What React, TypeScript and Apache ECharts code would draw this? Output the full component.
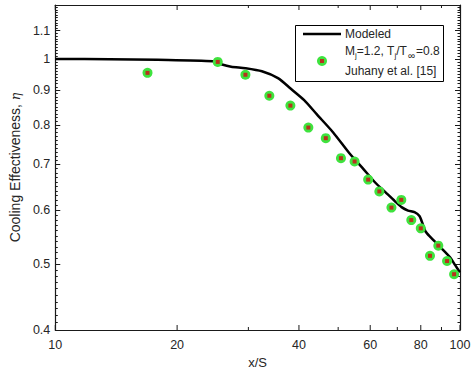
import React, { useEffect, useRef } from 'react';
import * as echarts from 'echarts';

// Modeled curve (x/S, eta)
const modeledX = [10, 13.6, 17.9, 24.5, 25.7, 27.2, 29.5, 32.4, 35.5, 38.2, 41.2, 44.3, 48.6, 53.3, 57.4, 61.8, 65.3, 69.1, 71.7, 74.4, 77.2, 79.4, 80.9, 82.2, 84.7, 89.5, 94.6, 97.3, 100];
const modeledY = [1.0, 0.999, 0.997, 0.992, 0.982, 0.974, 0.969, 0.959, 0.937, 0.904, 0.870, 0.829, 0.780, 0.727, 0.692, 0.658, 0.638, 0.618, 0.606, 0.599, 0.596, 0.588, 0.572, 0.558, 0.547, 0.529, 0.511, 0.498, 0.486];

// Juhany et al. [15] experimental points
const expX = [16.9, 25.2, 29.5, 33.8, 38.1, 42.2, 46.6, 50.8, 54.9, 59.3, 63.2, 67.7, 71.6, 75.8, 80.0, 84.3, 88.4, 92.9, 96.7];
const expY = [0.954, 0.990, 0.948, 0.883, 0.854, 0.793, 0.765, 0.715, 0.707, 0.665, 0.639, 0.605, 0.621, 0.580, 0.564, 0.514, 0.532, 0.505, 0.483];

// Ticks
const xMajorTicks = [10, 20, 40, 60, 80, 100];
const xMinorTicks = [30, 50, 70, 90];
const yMajorTicks = [0.4, 0.5, 0.6, 0.7, 0.8, 0.9, 1, 1.1];
const yMinorTicks: number[] = [];
for (let i = 41; i < 120; i++) {
  if (i % 10 !== 0) yMinorTicks.push(i / 100);
}
const Y_MIN = 0.4;
const Y_MAX = 1.2;

const FONT = 'Liberation Sans';
const TXT = '#262626';
const AX = '#1a1a1a';

export default function App() {
  const ref = useRef<HTMLDivElement>(null);
  useEffect(() => {
    if (!ref.current) return;
    const chart = echarts.init(ref.current, undefined, { renderer: 'svg' });

    const xBase = (pos: 'top' | 'bottom', labels: boolean) => ({
      type: 'log',
      logBase: 10,
      min: 10,
      max: 100,
      position: pos,
      axisLine: { show: true, onZero: false, lineStyle: { color: AX, width: 1.2 } },
      axisTick: { show: false },
      axisLabel: labels
        ? { show: true, customValues: xMajorTicks, formatter: (v: number) => String(Math.round(v)), fontFamily: FONT, fontSize: 12.5, color: TXT, margin: 8 }
        : { show: false },
      splitLine: { show: false },
      minorTick: { show: false },
      minorSplitLine: { show: false },
    });
    const yBase = (pos: 'left' | 'right', ticks: number[], len: number, labels: boolean, line: boolean) => ({
      type: 'log',
      logBase: 10,
      min: Y_MIN,
      max: Y_MAX,
      position: pos,
      axisLine: { show: line, onZero: false, lineStyle: { color: AX, width: 1.2 } },
      axisTick: { show: true, inside: true, length: len, customValues: ticks, lineStyle: { color: AX, width: 1 } },
      axisLabel: labels
        ? { show: true, customValues: ticks, formatter: (v: number) => String(Math.round(v * 10) / 10), fontFamily: FONT, fontSize: 12.5, color: TXT, margin: 5 }
        : { show: false },
      splitLine: { show: false },
      minorTick: { show: false },
      minorSplitLine: { show: false },
    });

    const xAxis: any[] = [
      { ...xBase('bottom', true), name: 'x/S', nameLocation: 'middle', nameGap: 26, nameTextStyle: { fontFamily: FONT, fontSize: 13, color: TXT } },
      xBase('top', false),
    ];
    const yAxis: any[] = [
      {
        ...yBase('left', yMajorTicks, 5, true, true),
        name: 'Cooling Effectiveness, {e|η}',
        nameLocation: 'middle',
        nameGap: 29,
        nameTextStyle: { fontFamily: FONT, fontSize: 14, color: TXT, rich: { e: { fontFamily: 'DejaVu Serif', fontStyle: 'italic', fontSize: 12.5, color: TXT } } },
      },
      yBase('left', yMinorTicks, 2.5, false, false),
      yBase('right', yMajorTicks, 5, false, true),
      yBase('right', yMinorTicks, 2.5, false, false),
    ];

    const lineData = modeledX.map((x, i) => [x, modeledY[i]]);
    const expData = expX.map((x, i) => [x, expY[i]]);

    // x-axis tick marks (inward), placed through the axes' scales
    const tickSeries = (vals: number[], yv: number, len: number, dir: number) => ({
      type: 'scatter',
      data: vals.map((v) => [v, yv]),
      xAxisIndex: 0,
      yAxisIndex: 0,
      symbol: 'rect',
      symbolSize: [1, len],
      symbolOffset: [0, (dir * len) / 2],
      itemStyle: { color: AX, opacity: 1 },
      silent: true,
      clip: false,
      z: 2,
    });

    const legendTextStyle = { fontFamily: FONT, fontSize: 12, fill: TXT };

    chart.setOption({
      animation: false,
      backgroundColor: '#ffffff',
      grid: { left: 45, right: 14, top: 5, bottom: 41, containLabel: false },
      xAxis,
      yAxis,
      series: [
        tickSeries(xMajorTicks, Y_MIN, 5, -1),
        tickSeries(xMinorTicks, Y_MIN, 3, -1),
        tickSeries(xMajorTicks, Y_MAX, 5, 1),
        tickSeries(xMinorTicks, Y_MAX, 3, 1),
        {
          type: 'line',
          name: 'Modeled',
          data: lineData,
          xAxisIndex: 0,
          yAxisIndex: 0,
          showSymbol: false,
          symbol: 'none',
          smooth: 0.25,
          lineStyle: { color: '#000000', width: 2.5 },
          z: 3,
        },
        {
          type: 'scatter',
          name: 'Juhany',
          data: expData,
          xAxisIndex: 0,
          yAxisIndex: 0,
          symbol: 'circle',
          symbolSize: 10,
          itemStyle: { color: '#3ee33e', opacity: 1 },
          z: 4,
        },
        {
          type: 'scatter',
          name: 'JuhanyCenter',
          data: expData,
          xAxisIndex: 0,
          yAxisIndex: 0,
          symbol: 'rect',
          symbolSize: 4,
          itemStyle: { color: '#b8321e', opacity: 1 },
          z: 5,
        },
      ],
      graphic: [
        {
          type: 'group',
          z: 100,
          children: [
            { type: 'rect', shape: { x: 295.5, y: 25.5, width: 148, height: 56 }, style: { fill: '#ffffff', stroke: '#000000', lineWidth: 1 } },
            { type: 'line', shape: { x1: 303, y1: 34, x2: 341, y2: 34 }, style: { stroke: '#000000', lineWidth: 2.5 } },
            { type: 'text', x: 345, y: 34, style: { ...legendTextStyle, text: 'Modeled', verticalAlign: 'middle', align: 'left' } },
            { type: 'circle', shape: { cx: 322, cy: 61, r: 5 }, style: { fill: '#3ee33e' } },
            { type: 'rect', shape: { x: 320, y: 59, width: 4, height: 4 }, style: { fill: '#b8321e' } },
            {
              type: 'text',
              x: 345,
              y: 51,
              style: {
                ...legendTextStyle,
                text: 'M{s|j}=1.2, T{s|j}/T{i|∞}=0.8',
                verticalAlign: 'middle',
                align: 'left',
                rich: {
                  s: { fontFamily: FONT, fontSize: 8, fill: TXT, padding: [8, 0, 0, 0] },
                  i: { fontFamily: FONT, fontSize: 10, fill: TXT, padding: [8, 1, 0, 1] },
                },
              },
            },
            { type: 'text', x: 345, y: 71, style: { ...legendTextStyle, text: 'Juhany et al. [15]', verticalAlign: 'middle', align: 'left' } },
          ],
        },
      ],
    });
    return () => chart.dispose();
  }, []);
  return <div ref={ref} style={{ position: 'fixed', left: 0, top: 0, width: 474, height: 374, background: '#fff' }} />;
}
